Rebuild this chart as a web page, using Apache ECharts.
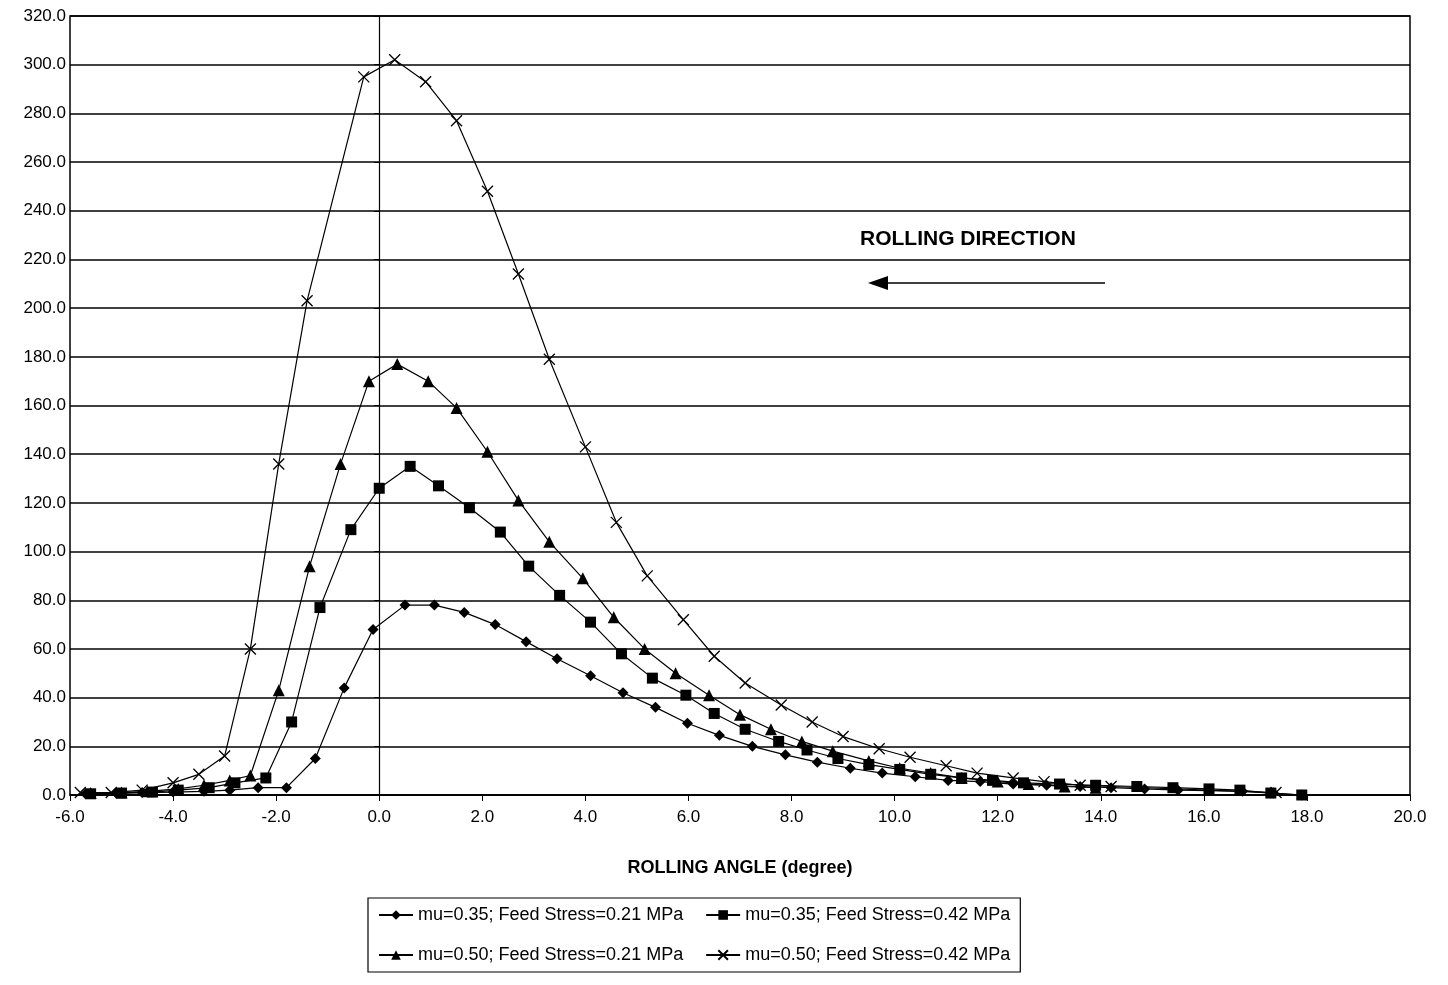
<!DOCTYPE html>
<html>
<head>
<meta charset="utf-8">
<script src="https://cdn.jsdelivr.net/npm/echarts@6/dist/echarts.min.js"></script>
<style>html,body{margin:0;padding:0;background:#fff}#main{width:1448px;height:985px}</style>
</head>
<body>
<div id="main"></div>
<script>
// 数据
var xTicks = [-6, -4, -2, 0, 2, 4, 6, 8, 10, 12, 14, 16, 18, 20];

var s1x = [-5.7, -5.1, -4.6, -4.0, -3.4, -2.9, -2.35, -1.8, -1.24, -0.68, -0.12, 0.5, 1.07, 1.65, 2.25, 2.85, 3.45, 4.1, 4.73, 5.36, 5.98, 6.6, 7.24, 7.88, 8.5, 9.14, 9.76, 10.4, 11.04, 11.66, 12.3, 12.95, 13.6, 14.2, 14.85, 15.5, 16.1, 16.75, 17.35, 17.9];
var s1y = [0.5, 0.8, 1, 1.2, 1.5, 2, 3, 3, 15, 44, 68, 78, 78, 75, 70, 63, 56, 49, 42, 36, 29.5, 24.5, 20, 16.5, 13.5, 11, 9, 7.5, 6, 5.5, 4.5, 4, 3.5, 3, 2.5, 2, 1.8, 1.5, 0.8, 0];

var s2x = [-5.6, -5.0, -4.4, -3.9, -3.3, -2.8, -2.2, -1.7, -1.15, -0.55, 0.0, 0.6, 1.15, 1.75, 2.35, 2.9, 3.5, 4.1, 4.7, 5.3, 5.95, 6.5, 7.1, 7.75, 8.3, 8.9, 9.5, 10.1, 10.7, 11.3, 11.9, 12.5, 13.2, 13.9, 14.7, 15.4, 16.1, 16.7, 17.3, 17.9];
var s2y = [0.5, 0.8, 1.2, 2, 3, 5, 7, 30, 77, 109, 126, 135, 127, 118, 108, 94, 82, 71, 58, 48, 41, 33.5, 27, 22, 18.5, 15, 12.5, 10.5, 8.5, 7, 6, 5, 4.5, 4, 3.5, 3, 2.5, 2, 0.8, 0];

var s3x = [-5.6, -5.0, -4.5, -3.9, -3.4, -2.9, -2.5, -1.95, -1.35, -0.75, -0.2, 0.35, 0.95, 1.5, 2.1, 2.7, 3.3, 3.95, 4.55, 5.15, 5.75, 6.4, 7.0, 7.6, 8.2, 8.8, 9.5, 10.1, 10.7, 11.3, 12.0, 12.6, 13.3, 13.9];
var s3y = [0.8, 1, 1.5, 2.5, 4, 6, 8, 43, 94, 136, 170, 177, 170, 159, 141, 121, 104, 89, 73, 60, 50, 41, 33, 27, 22, 18, 14, 11, 9, 7, 5.5, 4.5, 3.5, 3];

var s4x = [-5.8, -5.2, -4.6, -4.0, -3.5, -3.0, -2.5, -1.95, -1.4, -0.3, 0.3, 0.9, 1.5, 2.1, 2.7, 3.3, 4.0, 4.6, 5.2, 5.9, 6.5, 7.1, 7.8, 8.4, 9.0, 9.7, 10.3, 11.0, 11.6, 12.3, 12.9, 13.6, 14.2, 17.4];
var s4y = [1, 1, 2, 5, 8.5, 16, 60, 136, 203, 295, 302, 293, 277, 248, 214, 179, 143, 112, 90, 72, 57, 46, 37, 30, 24, 19, 15.5, 12, 9, 7, 5.5, 4, 3.5, 1];

var names = ['mu=0.35; Feed Stress=0.21 MPa', 'mu=0.35; Feed Stress=0.42 MPa', 'mu=0.50; Feed Stress=0.21 MPa', 'mu=0.50; Feed Stress=0.42 MPa'];

function pairs(xs, ys) {
  return xs.map(function (x, i) { return [x, ys[i]]; });
}

var myChart = echarts.init(document.getElementById('main'));
var font = 'Liberation Sans, Arial, sans-serif';
var cross = 'path://M0,0L10,10M10,0L0,10';

function mk(name, data, symbol, size, hollow) {
  return {
    name: name,
    type: 'line',
    data: data,
    symbol: symbol,
    symbolSize: size,
    showAllSymbol: true,
    lineStyle: { color: '#000', width: 1.2 },
    itemStyle: hollow ? { color: 'none', borderColor: '#000', borderWidth: 1.3 } : { color: '#000' },
    animation: false
  };
}

var option = {
  textStyle: { fontFamily: font },
  grid: { left: 70, right: 38, top: 16, bottom: 190, show: true, borderColor: '#000', borderWidth: 1.5, containLabel: false, outerBoundsMode: 'none' },
  xAxis: {
    type: 'value', min: -6, max: 20, interval: 2,
    name: 'ROLLING ANGLE (degree)', nameLocation: 'middle', nameGap: 64,
    nameTextStyle: { fontWeight: 'bold', fontSize: 18, color: '#000', fontFamily: font },
    axisLine: { lineStyle: { color: '#000', width: 1.5 } },
    axisTick: { inside: false, length: 6, lineStyle: { color: '#000' } },
    axisLabel: { color: '#000', fontSize: 17, margin: 14, formatter: function (v) { return xTicks.indexOf(v) >= 0 ? v.toFixed(1) : ''; } },
    splitLine: { show: false }
  },
  yAxis: {
    type: 'value', min: 0, max: 320, interval: 20,
    name: 'ROLL PRESSURE (MPa)', nameLocation: 'middle', nameGap: 340, nameRotate: 90,
    nameTextStyle: { fontWeight: 'bold', fontSize: 18, color: '#000', fontFamily: font },
    axisLine: { onZero: true, lineStyle: { color: '#000', width: 1.2 } },
    axisTick: { show: true, length: 5, lineStyle: { color: '#000' } },
    axisLabel: { color: '#000', fontSize: 17, margin: 4, formatter: function (v) { return v.toFixed(1); } },
    splitLine: { lineStyle: { color: '#000', width: 1.5 } }
  },
  legend: {
    left: 368, top: 898, width: 760,
    orient: 'horizontal',
    itemWidth: 34, itemHeight: 12, itemGap: 22,
    padding: [8, 10],
    borderColor: '#000', borderWidth: 1.2,
    textStyle: { fontSize: 18, color: '#000', fontFamily: font },
    data: names
  },
  graphic: [
    { type: 'text', left: 860, top: 229, style: { text: 'ROLLING DIRECTION', font: 'bold 21px ' + font, fill: '#000' } },
    { type: 'line', shape: { x1: 885, y1: 283, x2: 1105, y2: 283 }, style: { stroke: '#000', lineWidth: 1.5 } },
    { type: 'polygon', shape: { points: [[868, 283], [888, 276], [888, 290]] }, style: { fill: '#000' } }
  ],
  series: [
    mk(names[0], pairs(s1x, s1y), 'diamond', 11),
    mk(names[1], pairs(s2x, s2y), 'rect', 11),
    mk(names[2], pairs(s3x, s3y), 'triangle', 12),
    mk(names[3], pairs(s4x, s4y), cross, 11, true)
  ]
};

myChart.setOption(option);
</script>
</body>
</html>
